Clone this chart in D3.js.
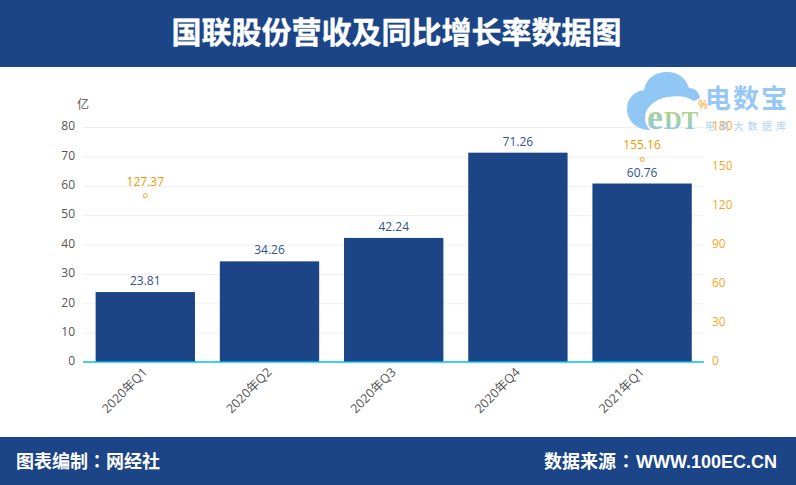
<!DOCTYPE html>
<html>
<head>
<meta charset="utf-8">
<script src="https://cdn.jsdelivr.net/npm/d3@7"></script>
<style>
  html, body { margin: 0; padding: 0; background: #fff; }
  svg { display: block; }
  text { font-family: "Open Sans", "Noto Sans CJK SC", sans-serif; }
  .heading { font-family: "Liberation Sans", "Noto Sans CJK SC", sans-serif; font-weight: 700; }
  .colon { font-family: "Noto Sans CJK TC", sans-serif; }
</style>
</head>
<body>
<div id="chart"></div>
<script>
var categories = ['2020年Q1', '2020年Q2', '2020年Q3', '2020年Q4', '2021年Q1'];
var revenue = [23.81, 34.26, 42.24, 71.26, 60.76];
var growth = [127.37, null, null, null, 155.16];
var leftTicks = [0, 10, 20, 30, 40, 50, 60, 70, 80];
var rightTicks = [0, 30, 60, 90, 120, 150, 180];

var width = 796,
    height = 485,
    navy = '#1b4587',
    orange = '#f39800',
    tickOrange = '#fca61e',
    axisGrey = '#555';

var svg = d3.select('#chart').append('svg')
    .attr('width', width)
    .attr('height', height);

// header and footer bands
svg.append('rect').attr('width', width).attr('height', 67).attr('fill', navy);
svg.append('rect').attr('y', 437).attr('width', width).attr('height', 48).attr('fill', navy);

svg.append('text')
    .attr('class', 'heading')
    .attr('x', 396.5).attr('y', 43)
    .attr('text-anchor', 'middle')
    .attr('fill', '#fff')
    .attr('font-size', 30)
    .attr('stroke', '#fff')
    .attr('stroke-width', 0.4)
    .text('国联股份营收及同比增长率数据图');

var credit = svg.append('text')
    .attr('class', 'heading')
    .attr('x', 16).attr('y', 468)
    .attr('fill', '#fff')
    .attr('font-size', 18);
credit.append('tspan').text('图表编制');
credit.append('tspan').attr('class', 'colon').text('：');
credit.append('tspan').text('网经社');

var source = svg.append('text')
    .attr('class', 'heading')
    .attr('x', 777).attr('y', 468)
    .attr('text-anchor', 'end')
    .attr('fill', '#fff')
    .attr('font-size', 18);
source.append('tspan').text('数据来源');
source.append('tspan').attr('class', 'colon').attr('dx', 1).text('：');
source.append('tspan').attr('dx', 1).text('WWW.100EC.CN');

var x = d3.scaleBand().domain(categories).range([83.2, 704.2]).paddingInner(0.2).paddingOuter(0.1);
var yLeft = d3.scaleLinear().domain([0, 80]).range([362, 127]);
var yRight = d3.scaleLinear().domain([0, 180]).range([362, 127]);

// gridlines
svg.append('g').selectAll('line')
    .data(leftTicks.slice(1))
    .join('line')
    .attr('x1', 83).attr('x2', 704)
    .attr('y1', function(d) { return yLeft(d) + 0.5; })
    .attr('y2', function(d) { return yLeft(d) + 0.5; })
    .attr('stroke', '#eeeeee');

// bars
svg.append('g').selectAll('rect')
    .data(revenue)
    .join('rect')
    .attr('x', function(d, i) { return x(categories[i]); })
    .attr('y', function(d) { return yLeft(d); })
    .attr('width', x.bandwidth())
    .attr('height', function(d) { return yLeft(0) - yLeft(d); })
    .attr('fill', navy);

// baseline
svg.append('line')
    .attr('x1', 83).attr('x2', 704)
    .attr('y1', 362).attr('y2', 362)
    .attr('stroke', '#00bff3')
    .attr('stroke-width', 1.5);

// left axis
var leftAxis = svg.append('g')
    .attr('transform', 'translate(83,-1)')
    .call(d3.axisLeft(yLeft).tickValues(leftTicks).tickSize(0).tickPadding(8));
leftAxis.select('.domain').remove();
leftAxis.selectAll('text')
    .attr('fill', axisGrey)
    .attr('font-size', 12)
    .style('font-family', '"Open Sans", sans-serif');

// right axis
var rightAxis = svg.append('g')
    .attr('transform', 'translate(704,-1)')
    .call(d3.axisRight(yRight).tickValues(rightTicks).tickSize(0).tickPadding(8));
rightAxis.select('.domain').remove();
rightAxis.selectAll('text')
    .attr('fill', tickOrange)
    .attr('font-size', 12)
    .style('font-family', '"Open Sans", sans-serif');

// bottom axis, rotated labels
var bottomAxis = svg.append('g')
    .attr('transform', 'translate(0,362)')
    .call(d3.axisBottom(x).tickSize(0).tickPadding(0));
bottomAxis.select('.domain').remove();
bottomAxis.selectAll('text')
    .attr('fill', axisGrey)
    .attr('font-size', 12.5)
    .style('font-family', '"Open Sans", "Noto Sans CJK SC", sans-serif')
    .attr('text-anchor', 'end')
    .attr('dy', 0)
    .attr('transform', 'translate(3,11) rotate(-45)');

// axis units
svg.append('text').attr('x', 77).attr('y', 109).attr('fill', axisGrey).attr('font-size', 12).text('亿');
svg.append('text').attr('x', 698).attr('y', 109).attr('fill', tickOrange).attr('font-size', 12).text('%');

// bar value labels
svg.append('g').selectAll('text')
    .data(revenue)
    .join('text')
    .attr('x', function(d, i) { return x(categories[i]) + x.bandwidth() / 2; })
    .attr('y', function(d) { return yLeft(d) - 7; })
    .attr('text-anchor', 'middle')
    .attr('fill', '#2d548f')
    .attr('font-size', 12)
    .text(function(d) { return d.toFixed(2); });

// growth points and labels
var points = growth.map(function(d, i) { return { cat: categories[i], value: d }; })
    .filter(function(d) { return d.value !== null; });

svg.append('g').selectAll('circle')
    .data(points)
    .join('circle')
    .attr('cx', function(d) { return x(d.cat) + x.bandwidth() / 2; })
    .attr('cy', function(d) { return yRight(d.value); })
    .attr('r', 2)
    .attr('fill', '#fff')
    .attr('stroke', tickOrange);

svg.append('g').selectAll('text')
    .data(points)
    .join('text')
    .attr('x', function(d) { return x(d.cat) + x.bandwidth() / 2; })
    .attr('y', function(d) { return yRight(d.value) - 10; })
    .attr('text-anchor', 'middle')
    .attr('fill', orange)
    .attr('font-size', 12)
    .text(function(d) { return d.value.toFixed(2); });

// watermark logo
var logo = svg.append('g').attr('opacity', 0.9);
logo.append('path')
    .attr('d', 'M650 130 C636 130 627 120 627 109 C627 98 635 91 644 90 C646 78 656 72 667 72 C678 72 686 78 689 88 C695 88 699 92 700 98 L694 101 C688 97 680 95 668 97 C654 99 645 108 645 118 C645 123 647 127 650 130 Z')
    .attr('fill', '#85c1f5');
var grad = svg.append('defs').append('linearGradient')
    .attr('id', 'edtFill').attr('x1', 0).attr('x2', 0).attr('y1', 0).attr('y2', 1);
grad.append('stop').attr('offset', 0).attr('stop-color', '#b9cf5a');
grad.append('stop').attr('offset', 1).attr('stop-color', '#78c3ee');
logo.append('text')
    .attr('x', 647).attr('y', 129)
    .attr('font-size', 36)
    .attr('font-weight', 700)
    .attr('fill', 'url(#edtFill)')
    .style('font-family', '"Liberation Serif", serif')
    .text('e');
logo.append('text')
    .attr('x', 664).attr('y', 129)
    .attr('font-size', 26)
    .attr('font-weight', 700)
    .attr('textLength', 34)
    .attr('lengthAdjust', 'spacingAndGlyphs')
    .attr('fill', 'url(#edtFill)')
    .style('font-family', '"Liberation Serif", serif')
    .text('DT');
logo.append('text')
    .attr('class', 'heading')
    .attr('x', 705).attr('y', 108)
    .attr('font-size', 26)
    .attr('fill', '#8cc3f5')
    .attr('textLength', 82)
    .text('电数宝');
logo.append('text')
    .attr('x', 705).attr('y', 130)
    .attr('font-size', 10)
    .attr('fill', '#a5d0f5')
    .attr('textLength', 81)
    .text('电商大数据库');
</script>
</body>
</html>
